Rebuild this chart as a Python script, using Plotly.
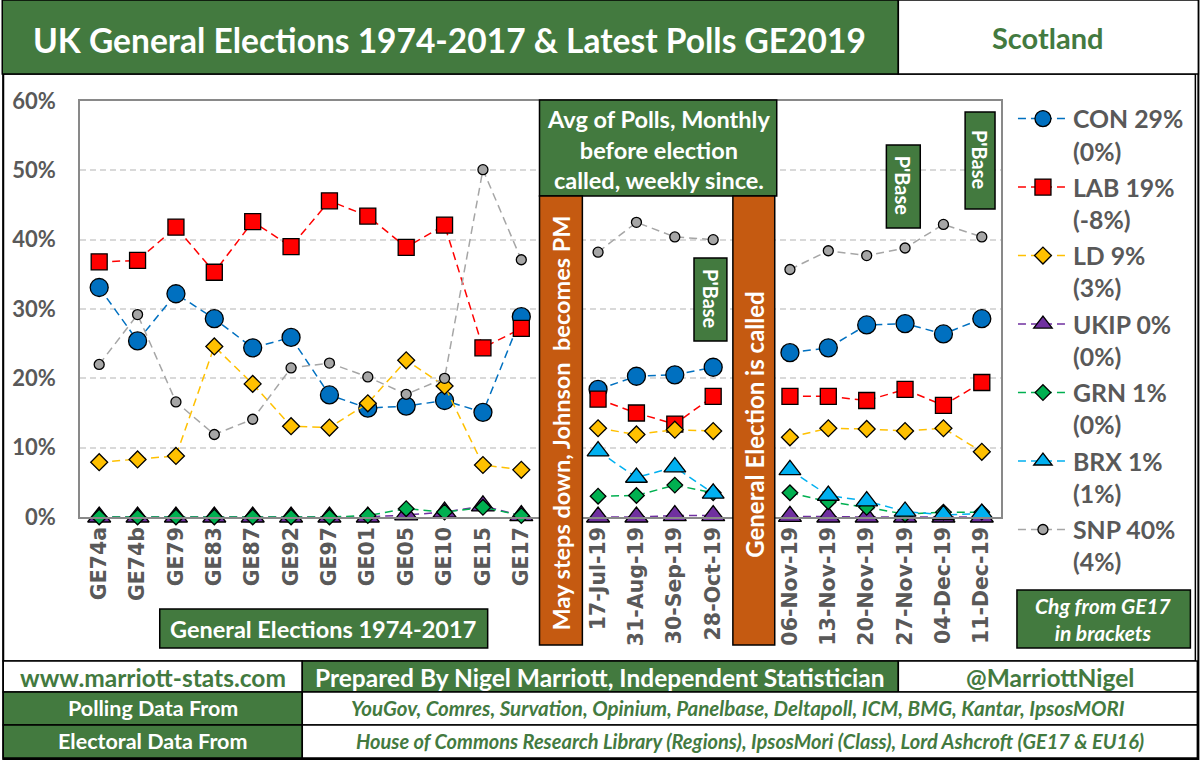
import plotly.graph_objects as go

# ---------------- data ----------------
categories = ["GE74a", "GE74b", "GE79", "GE83", "GE87", "GE92", "GE97", "GE01", "GE05", "GE10", "GE15", "GE17",
              " ",
              "17-Jul-19", "31-Aug-19", "30-Sep-19", "28-Oct-19",
              "  ",
              "06-Nov-19", "13-Nov-19", "20-Nov-19", "27-Nov-19", "04-Dec-19", "11-Dec-19"]

con = [33.1, 25.4, 32.2, 28.6, 24.4, 25.9, 17.6, 15.7, 16.0, 16.8, 15.1, 28.9,
       None, 18.4, 20.3, 20.5, 21.6, None, 23.7, 24.4, 27.7, 27.9, 26.4, 28.6]
lab = [36.8, 37.0, 41.8, 35.3, 42.6, 39.0, 45.6, 43.4, 38.9, 42.1, 24.4, 27.2,
       None, 17.0, 15.0, 13.4, 17.4, None, 17.4, 17.4, 16.8, 18.4, 16.1, 19.4]
ld = [7.9, 8.3, 8.8, 24.6, 19.2, 13.1, 12.9, 16.4, 22.6, 18.9, 7.5, 6.8,
      None, 12.8, 11.9, 12.6, 12.4, None, 11.5, 12.8, 12.7, 12.4, 12.8, 9.4]
ukip = [0.0, 0.0, 0.0, 0.0, 0.0, 0.0, 0.0, 0.0, 0.3, 0.7, 1.6, 0.2,
        None, 0.0, 0.0, 0.2, 0.2, None, 0.1, 0.0, 0.0, 0.0, 0.0, 0.0]
grn = [0.0, 0.0, 0.0, 0.0, 0.0, 0.0, 0.0, 0.2, 1.2, 0.7, 1.4, 0.2,
       None, 3.0, 3.1, 4.6, 3.5, None, 3.5, 2.2, 1.4, 0.4, 0.7, 0.7]
brx = [None, None, None, None, None, None, None, None, None, None, None, None,
       None, 9.5, 5.7, 7.2, 3.4, None, 6.8, 3.1, 2.3, 0.8, 0.3, 0.5]
snp = [22.0, 29.2, 16.6, 11.9, 14.1, 21.5, 22.2, 20.2, 17.7, 20.0, 50.1, 37.1,
       None, 38.2, 42.5, 40.4, 40.0, None, 35.7, 38.4, 37.7, 38.8, 42.2, 40.4]

legend_labels = ["CON 29%<br>(0%)", "LAB 19%<br>(-8%)", "LD 9%<br>(3%)", "UKIP 0%<br>(0%)",
                 "GRN 1%<br>(0%)", "BRX 1%<br>(1%)", "SNP 40%<br>(4%)"]
y_ticks = [0, 10, 20, 30, 40, 50, 60]

# ---------------- style ----------------
GREEN = "#437A3F"
ORANGE = "#C55A11"
GREY_TXT = "#595959"
FONT = "Lato"

series = [
    (con, "#0070C0", "circle", 18),
    (lab, "#FF0000", "square", 16),
    (ld, "#FFC000", "diamond", 13),
    (ukip, "#7030A0", "triangle-up", 20),
    (grn, "#00B050", "diamond", 12),
    (brx, "#00B0F0", "triangle-up", 19),
    (snp, "#A6A6A6", "circle", 10),
]

fig = go.Figure()
for (vals, col, sym, sz), name in zip(series, legend_labels):
    fig.add_trace(go.Scatter(
        x=categories, y=vals, name=name, legendgroup=name,
        mode="lines+markers", connectgaps=False, cliponaxis=False,
        line=dict(color=col, width=1.5, dash="8px,5px"),
        marker=dict(symbol=sym, size=sz, color=col, line=dict(color="black", width=1.3)),
    ))

# pixel -> paper helpers (plot area 78..1002 x 101..517)
L, R, T, B = 78, 1002, 101, 517
W, H = R - L, B - T


def px(x):
    return (x - L) / W


def py(y):
    return (B - y) / H


shapes = []
annotations = []


def rect(x0, y0, x1, y1, fill, line="black", lw=1.5, layer="above"):
    shapes.append(dict(type="rect", xref="paper", yref="paper",
                       x0=px(x0), x1=px(x1), y0=py(y1), y1=py(y0),
                       fillcolor=fill, line=dict(color=line, width=lw), layer=layer))


def text(x, y, t, size, color="white", angle=0, italic=False, weight=700):
    annotations.append(dict(xref="paper", yref="paper", x=px(x), y=py(y), text=t,
                            showarrow=False, textangle=angle, xanchor="center", yanchor="middle",
                            font=dict(family=FONT, size=size, color=color, weight=weight,
                                      style="italic" if italic else "normal")))


# outer frame
rect(1, 1, 1200, 759, "rgba(0,0,0,0)", "black", 2, "below")
# title bar
rect(0, 0, 899, 74, GREEN, "black", 1.5)
rect(899, 0, 1200, 74, "white", "black", 1.5)
text(449, 40, "UK General Elections 1974-2017 & Latest Polls GE2019", 33.5)
text(1049, 38, "Scotland", 29, GREEN)
# chart frame
rect(1, 74, 1197, 661, "rgba(0,0,0,0)", "black", 1.5, "below")

# annotation boxes in chart
rect(539, 100, 777, 196, GREEN)
text(658, 149, "Avg of Polls, Monthly<br>before election<br>called, weekly since.", 23.5)
rect(539, 196, 582, 645, ORANGE)
text(561, 423, "May steps down, Johnson  becomes PM", 23.5, angle=-90)
rect(733, 196, 775, 645, ORANGE)
text(754, 424, "General Election is called", 24, angle=-90)
rect(694, 258, 727, 341, GREEN)
text(711, 299, "P'Base", 20, angle=90)
rect(887, 145, 921, 228, GREEN)
text(904, 186, "P'Base", 20, angle=90)
rect(966, 112, 996, 209, GREEN)
text(981, 160, "P'Base", 20, angle=90)
rect(158, 609, 487, 648, GREEN)
text(322, 629, "General Elections 1974-2017", 23.5)
rect(1018, 590, 1192, 648, GREEN)
text(1105, 619, "Chg from GE17<br>in brackets", 21, italic=True)

# footer
rect(1, 661, 301, 692, "white")
text(151, 677, "www.marriott-stats.com", 24.5, GREEN)
rect(301, 661, 899, 692, GREEN)
text(600, 677, "Prepared By Nigel Marriott, Independent Statistician", 24.5)
rect(899, 661, 1199, 692, "white")
text(1051, 677, "@MarriottNigel", 24.5, GREEN)
rect(1, 692, 301, 725, GREEN)
text(151, 708, "Polling Data From", 21.5)
rect(301, 692, 1199, 725, "white")
text(738, 708, "YouGov, Comres, Survation, Opinium, Panelbase, Deltapoll, ICM, BMG, Kantar, IpsosMORI",
     20.5, GREEN, italic=True)
rect(1, 725, 301, 758, GREEN)
text(151, 741, "Electoral Data From", 21.5)
rect(301, 725, 1199, 758, "white")
text(750, 741, "House of Commons Research Library (Regions), IpsosMori (Class), Lord Ashcroft (GE17 & EU16)",
     20, GREEN, italic=True)

fig.update_layout(
    width=1201, height=760,
    margin=dict(l=L, r=1201 - R, t=T, b=760 - B, pad=0),
    paper_bgcolor="white", plot_bgcolor="white",
    shapes=shapes, annotations=annotations,
    showlegend=True,
    legend=dict(x=px(1014), y=py(96), xanchor="left", yanchor="top",
                font=dict(family=FONT, size=24.8, color=GREY_TXT, weight=700),
                itemwidth=50, valign="top", tracegroupgap=1, traceorder="grouped",
                maxheight=700, bgcolor="rgba(0,0,0,0)"),
    xaxis=dict(type="category", categoryorder="array", categoryarray=categories,
               range=[-0.5, len(categories) - 0.5],
               tickangle=-90, showgrid=False, showline=True, linecolor="#898989", linewidth=1.5,
               mirror=True, ticks="",
               tickfont=dict(family="DejaVu Sans", size=20.5, color=GREY_TXT, weight=700)),
    yaxis=dict(range=[0, 60], tickvals=y_ticks, ticktext=[f"{v}%" for v in y_ticks],
               showgrid=True, gridcolor="#D9D9D9", griddash="6px,4px", gridwidth=1.5,
               zeroline=False, showline=True, linecolor="#898989", linewidth=1.5, mirror=True,
               ticks="", ticklabelstandoff=18,
               tickfont=dict(family=FONT, size=22, color=GREY_TXT, weight=700)),
)

fig.write_html("out.html")
